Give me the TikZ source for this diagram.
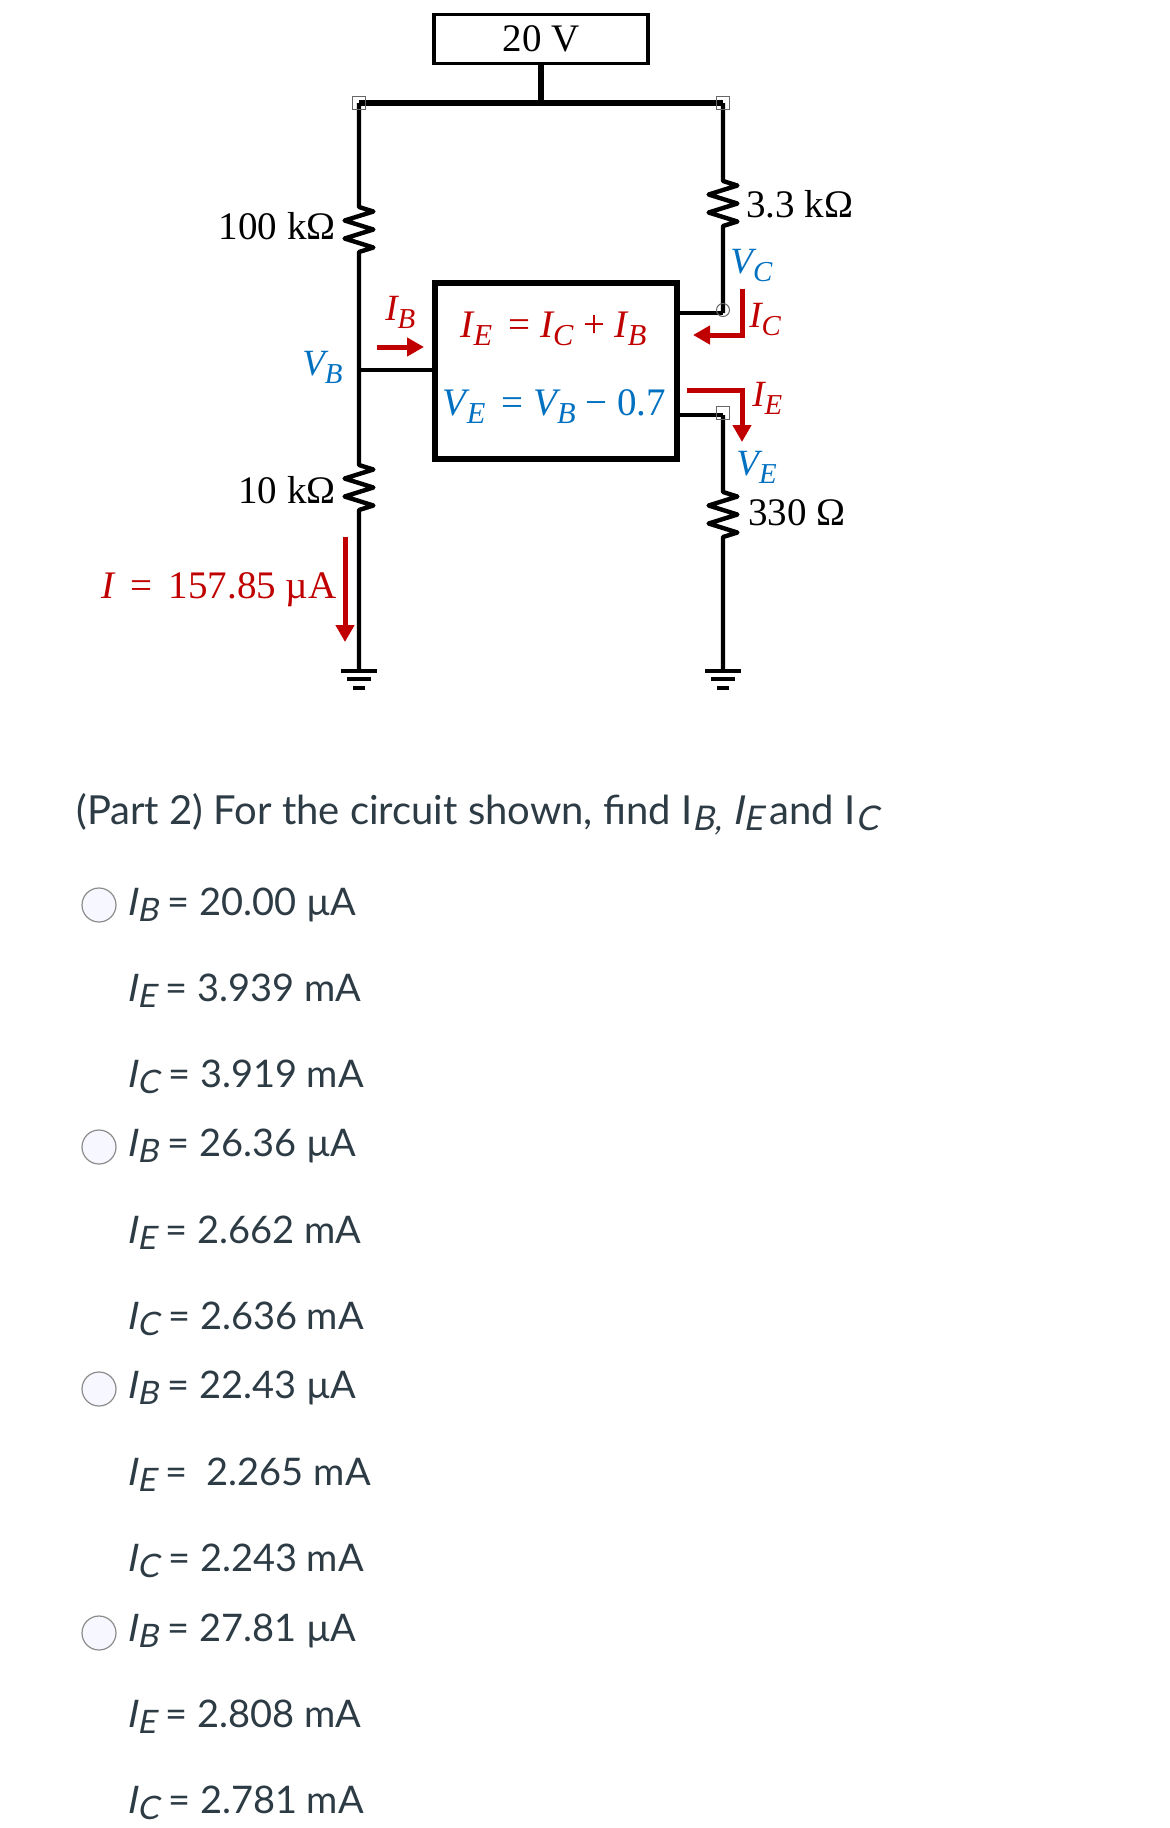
\documentclass[tikz,border=0pt]{standalone}
\usepackage{graphicx}
\usepackage{fontspec}
\setmainfont{Lato}
\newfontfamily\circuitfont{Liberation Serif}
\newfontfamily\obliquefont[FakeSlant=0.2]{Lato}
\usetikzlibrary{arrows.meta,decorations.pathmorphing}
\definecolor{ired}{HTML}{C00000}
\definecolor{vblue}{HTML}{0070C0}
\definecolor{bodytext}{HTML}{2D3B45}
% symbol with a subscript, in the circuit font
\newcommand{\sym}[2]{{\itshape #1\raisebox{-0.5ex}{\scalebox{0.78}{#2}}}}
% subscript and symbol with a subscript, in the text font
\newcommand{\ansub}[1]{\raisebox{-3.4pt}{\scalebox{0.85}{\obliquefont #1}}}
\newcommand{\ansym}[1]{{\obliquefont I}\ansub{#1}}

\begin{document}
\begin{tikzpicture}[
        %One unit is one pixel of the page, y runs downwards
        x=0.5pt, y=-0.5pt,
        wire/.style={line width=2.2pt, line join=round},
        heavy wire/.style={line width=2.6pt},
        box/.style={draw, inner sep=0pt, outer sep=0pt},
        resistor/.style={decoration={zigzag, amplitude=7.2pt, segment length=9pt}},
        current/.style={ired, line width=2.5pt, -{Triangle[length=8.5pt,width=9pt]}},
        handle/.style={draw=black!60, line width=0.5pt, inner sep=0pt, minimum size=6.5pt},
        radio/.style={circle, draw=black!45, line width=0.6pt, fill=blue!3, inner sep=0pt, minimum size=17pt},
        value/.style={font=\circuitfont\fontsize{19.5}{22}\selectfont, inner sep=0pt, text=black},
        red value/.style={value, text=ired},
        blue value/.style={value, text=vblue},
        small red/.style={red value, font=\circuitfont\fontsize{18.5}{20}\selectfont},
        small blue/.style={blue value, font=\circuitfont\fontsize{18.5}{20}\selectfont},
        answer/.style={anchor=base west, inner sep=0pt, text=bodytext, font=\fontsize{19}{20}\selectfont},
        title/.style={answer, font=\fontsize{20}{22}\selectfont},
        ground/.pic={
            \draw[line width=1.9pt] (-18,0) -- (18,0);
            \draw[line width=1.9pt] (-12,8) -- (12,8);
            \draw[line width=1.9pt] (-6,17) -- (6,17);
        }
]
\useasboundingbox (0,0) rectangle (1170,1828);

% Important coordinates are defined
\coordinate (tl) at (359,103);
\coordinate (tr) at (723,103);
\coordinate (r1 top) at (359,207);
\coordinate (r1 bot) at (359,259);
\coordinate (r2 top) at (359,465);
\coordinate (r2 bot) at (359,517);
\coordinate (r3 top) at (723,181);
\coordinate (r3 bot) at (723,233);
\coordinate (r4 top) at (723,492);
\coordinate (r4 bot) at (723,544);
\coordinate (base) at (359,370);
\coordinate (coll) at (723,313);
\coordinate (emit) at (723,415);
\coordinate (gnd l) at (359,671);
\coordinate (gnd r) at (723,671);

% supply and block
\node[box, line width=1.9pt, minimum width=107pt, minimum height=24.5pt] (supply) at (541,39) {};
\node[box, line width=2.6pt, minimum width=121pt, minimum height=88pt] (block) at (556,371) {};

% wires
\draw[heavy wire] (supply.south) -- (supply.south |- tl);
\draw[heavy wire] (tl) -- (tr);
\draw[wire, resistor] (tl) -- (r1 top) decorate {-- (r1 bot)} -- (r2 top) decorate {-- (r2 bot)} -- (gnd l);
\draw[wire, resistor] (tr) -- (r3 top) decorate {-- (r3 bot)} -- (emit |- coll);
\draw[wire, resistor] (emit) -- (r4 top) decorate {-- (r4 bot)} -- (gnd r);
\draw[wire] (base) -- (block.west |- base);
\draw[wire] (block.east |- coll) -- (coll);
\draw[wire] (block.east |- emit) -- (emit);
\pic at (gnd l) {ground};
\pic at (gnd r) {ground};

% handles left by the drawing program
\node[handle] (h1) at (tl) {};
\node[handle] (h2) at (tr) {};
\node[handle] (h3) at (723,413) {};
\node[handle, circle] (h4) at (723,310) {};

% currents
\coordinate (ib a) at (377,347);
\coordinate (ib b) at (424,347);
\coordinate (ic a) at (742,289);
\coordinate (ic c) at (742,335);
\coordinate (ic b) at (693,335);
\coordinate (ie a) at (687,390);
\coordinate (ie c) at (742,390);
\coordinate (ie b) at (742,442);
\coordinate (i a) at (345,537);
\coordinate (i b) at (345,642);
\draw[current] (ib a) -- (ib b);
\draw[current] (ic a) -- (ic c) -- (ic b);
\draw[current] (ie a) -- (ie c) -- (ie b);
\draw[current] (i a) -- (i b);

% labels of the circuit
\node[value] (supply label) at (541,39) {20 V};
\node[value, anchor=base east] (r1 label) at (336,239) {100 kΩ};
\node[value, anchor=base east] (r2 label) at (336,503) {10 kΩ};
\node[value, anchor=base west] (r3 label) at (746,217) {3.3 kΩ};
\node[value, anchor=base west] (r4 label) at (748,525) {330 Ω};
\node[red value, anchor=base east] (i label) at (337,598) {{\itshape I}\, = \,157.85 µA};
\node[small red, anchor=base west] (ib label) at (385,320) {\sym{I}{B}};
\node[small red, anchor=base west] (ic label) at (749,327) {\sym{I}{C}};
\node[small red, anchor=base west] (ie label) at (752,406) {\sym{I}{E}};
\node[small blue, anchor=base east] (vb label) at (343,375) {\sym{V}{B}};
\node[small blue, anchor=base west] (vc label) at (730,273) {\sym{V}{C}};
\node[small blue, anchor=base west] (ve label) at (736,475) {\sym{V}{E}};
\node[red value, anchor=base] (eq i) at (553.5,337) {\sym{I}{E} \,= \sym{I}{C} + \sym{I}{B}};
\node[blue value, anchor=base] (eq v) at (554.5,415) {\sym{V}{E} \,= \sym{V}{B} − 0.7};

% question
\node[title] (question) at (76,824) {(Part 2) For the circuit shown, find I\ansub{B,} \ansym{E}\,and I\ansub{C}};

% first choice
\node[radio] (radio a) at (99,905) {};
\node[answer] (a ib) at (126,915) {\ansym{B} = 20.00 µA};
\node[answer] (a ie) at (126,1001) {\ansym{E} = 3.939 mA};
\node[answer] (a ic) at (126,1087) {\ansym{C} = 3.919 mA};
% second choice
\node[radio] (radio b) at (99,1147) {};
\node[answer] (b ib) at (126,1156) {\ansym{B} = 26.36 µA};
\node[answer] (b ie) at (126,1243) {\ansym{E} = 2.662 mA};
\node[answer] (b ic) at (126,1329) {\ansym{C} = 2.636 mA};
% third choice
\node[radio] (radio c) at (99,1389) {};
\node[answer] (c ib) at (126,1398) {\ansym{B} = 22.43 µA};
\node[answer] (c ie) at (126,1485) {\ansym{E} =\ \ 2.265 mA};
\node[answer] (c ic) at (126,1571) {\ansym{C} = 2.243 mA};
% fourth choice
\node[radio] (radio d) at (99,1633) {};
\node[answer] (d ib) at (126,1641) {\ansym{B} = 27.81 µA};
\node[answer] (d ie) at (126,1727) {\ansym{E} = 2.808 mA};
\node[answer] (d ic) at (126,1813) {\ansym{C} = 2.781 mA};
\end{tikzpicture}
\end{document}
